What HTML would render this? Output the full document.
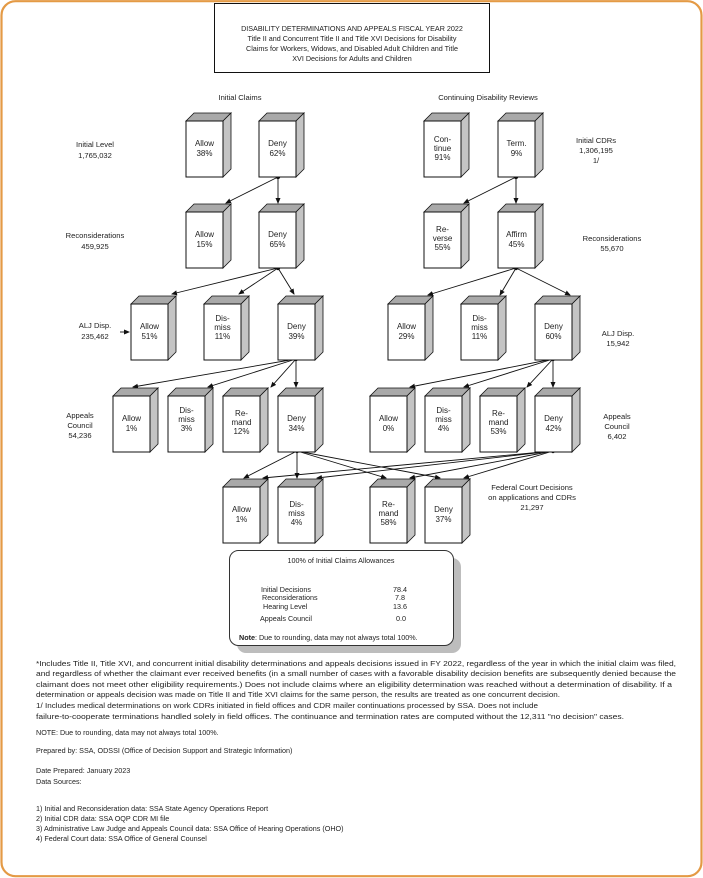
<!DOCTYPE html>
<html><head><meta charset="utf-8"><style>
html,body{margin:0;padding:0;background:#fff;}
svg{display:block;font-family:"Liberation Sans",Arial,sans-serif;}
.b text{font-size:8px;text-anchor:middle;fill:#222;}
.l{font-size:7.6px;fill:#222;text-anchor:middle;}
.f{font-size:7.2px;fill:#222;}
</style></head><body>
<svg width="703" height="878" viewBox="0 0 703 878" xmlns="http://www.w3.org/2000/svg">
<defs>
<g id="bx">
<polygon points="0,0 8,-8 45,-8 37,0" fill="#a9a9a9" stroke="#111" stroke-width="0.8"/>
<polygon points="37,0 45,-8 45,48 37,56" fill="#c4c4c4" stroke="#111" stroke-width="0.8"/>
<rect x="0" y="0" width="37" height="56" fill="#fff" stroke="#111" stroke-width="1"/>
</g>
<marker id="ar" markerWidth="6" markerHeight="6" refX="5" refY="3" orient="auto" markerUnits="userSpaceOnUse"><path d="M0,0.5 L6,3 L0,5.5z" fill="#111"/></marker>
</defs>
<rect x="1.5" y="1.2" width="700" height="875" rx="14" fill="none" stroke="#e49a45" stroke-width="2.2"/>
<rect x="214.5" y="3.5" width="275" height="69" fill="#fff" stroke="#111" stroke-width="1"/>
<g class="l" style="font-size:7.2px">
<text x="352" y="31">DISABILITY DETERMINATIONS AND APPEALS FISCAL YEAR 2022</text>
<text x="352" y="41">Title II and Concurrent Title II and Title XVI Decisions for Disability</text>
<text x="352" y="51">Claims for Workers, Widows, and Disabled Adult Children and Title</text>
<text x="352" y="61">XVI Decisions for Adults and Children</text>
</g>
<text class="l" x="240" y="100">Initial Claims</text>
<text class="l" x="488" y="100">Continuing Disability Reviews</text>
<g class="l">
<text x="95" y="147">Initial Level</text><text x="95" y="158">1,765,032</text>
<text x="95" y="238">Reconsiderations</text><text x="95" y="249">459,925</text>
<text x="95" y="328">ALJ Disp.</text><text x="95" y="339">235,462</text>
<text x="80" y="418">Appeals</text><text x="80" y="428">Council</text><text x="80" y="438">54,236</text>
<text x="596" y="143">Initial CDRs</text><text x="596" y="153">1,306,195</text><text x="596" y="163">1/</text>
<text x="612" y="241">Reconsiderations</text><text x="612" y="251">55,670</text>
<text x="618" y="336">ALJ Disp.</text><text x="618" y="346">15,942</text>
<text x="617" y="419">Appeals</text><text x="617" y="429">Council</text><text x="617" y="439">6,402</text>
<text x="532" y="490">Federal Court Decisions</text><text x="532" y="500">on applications and CDRs</text><text x="532" y="510">21,297</text>
</g>
<g stroke="#111" stroke-width="0.9" marker-end="url(#ar)">
<line x1="278" y1="177" x2="226" y2="203"/><line x1="278" y1="177" x2="278" y2="203"/>
<line x1="516" y1="177" x2="464" y2="203"/><line x1="516" y1="177" x2="516" y2="203"/>
<line x1="278" y1="268" x2="172" y2="294"/><line x1="278" y1="268" x2="239" y2="294"/><line x1="278" y1="268" x2="294" y2="294"/>
<line x1="516" y1="268" x2="428" y2="295"/><line x1="516" y1="268" x2="500" y2="295"/><line x1="516" y1="268" x2="570" y2="295"/>
<line x1="296" y1="359" x2="133" y2="387"/><line x1="296" y1="359" x2="208" y2="387"/><line x1="296" y1="359" x2="271" y2="387"/><line x1="296" y1="359" x2="296" y2="387"/>
<line x1="553" y1="359" x2="410" y2="387"/><line x1="553" y1="359" x2="464" y2="387"/><line x1="553" y1="359" x2="527" y2="387"/><line x1="553" y1="359" x2="553" y2="387"/>
<line x1="297" y1="451" x2="244" y2="478"/><line x1="297" y1="451" x2="297" y2="478"/><line x1="297" y1="451" x2="386" y2="478"/><line x1="297" y1="451" x2="440" y2="478"/>
<line x1="553" y1="451" x2="263" y2="478"/><line x1="553" y1="451" x2="317" y2="478"/><line x1="553" y1="451" x2="410" y2="478"/><line x1="553" y1="451" x2="464" y2="478"/>
<line x1="120" y1="332" x2="129" y2="332"/>
</g>
<g fill="#111">
<circle cx="278" cy="177" r="2.2"/><circle cx="516" cy="177" r="2.2"/><circle cx="278" cy="268" r="2.2"/><circle cx="516" cy="268" r="2.2"/>
<circle cx="296" cy="359" r="2.2"/><circle cx="553" cy="359" r="2.2"/><circle cx="297" cy="451" r="2.2"/><circle cx="553" cy="451" r="2.2"/>
</g>
<g class="b">
<use href="#bx" x="186" y="121"/><text x="204.5" y="146">Allow</text><text x="204.5" y="156">38%</text>
<use href="#bx" x="259" y="121"/><text x="277.5" y="146">Deny</text><text x="277.5" y="156">62%</text>
<use href="#bx" x="424" y="121"/><text x="442.5" y="142">Con-</text><text x="442.5" y="151">tinue</text><text x="442.5" y="160">91%</text>
<use href="#bx" x="498" y="121"/><text x="516.5" y="146">Term.</text><text x="516.5" y="156">9%</text>
<use href="#bx" x="186" y="212"/><text x="204.5" y="237">Allow</text><text x="204.5" y="247">15%</text>
<use href="#bx" x="259" y="212"/><text x="277.5" y="237">Deny</text><text x="277.5" y="247">65%</text>
<use href="#bx" x="424" y="212"/><text x="442.5" y="232">Re-</text><text x="442.5" y="241">verse</text><text x="442.5" y="250">55%</text>
<use href="#bx" x="498" y="212"/><text x="516.5" y="237">Affirm</text><text x="516.5" y="247">45%</text>
<use href="#bx" x="131" y="304"/><text x="149.5" y="329">Allow</text><text x="149.5" y="339">51%</text>
<use href="#bx" x="204" y="304"/><text x="222.5" y="321">Dis-</text><text x="222.5" y="330">miss</text><text x="222.5" y="339">11%</text>
<use href="#bx" x="278" y="304"/><text x="296.5" y="329">Deny</text><text x="296.5" y="339">39%</text>
<use href="#bx" x="388" y="304"/><text x="406.5" y="329">Allow</text><text x="406.5" y="339">29%</text>
<use href="#bx" x="461" y="304"/><text x="479.5" y="321">Dis-</text><text x="479.5" y="330">miss</text><text x="479.5" y="339">11%</text>
<use href="#bx" x="535" y="304"/><text x="553.5" y="329">Deny</text><text x="553.5" y="339">60%</text>
<use href="#bx" x="113" y="396"/><text x="131.5" y="421">Allow</text><text x="131.5" y="431">1%</text>
<use href="#bx" x="168" y="396"/><text x="186.5" y="413">Dis-</text><text x="186.5" y="422">miss</text><text x="186.5" y="431">3%</text>
<use href="#bx" x="223" y="396"/><text x="241.5" y="416">Re-</text><text x="241.5" y="425">mand</text><text x="241.5" y="434">12%</text>
<use href="#bx" x="278" y="396"/><text x="296.5" y="421">Deny</text><text x="296.5" y="431">34%</text>
<use href="#bx" x="370" y="396"/><text x="388.5" y="421">Allow</text><text x="388.5" y="431">0%</text>
<use href="#bx" x="425" y="396"/><text x="443.5" y="413">Dis-</text><text x="443.5" y="422">miss</text><text x="443.5" y="431">4%</text>
<use href="#bx" x="480" y="396"/><text x="498.5" y="416">Re-</text><text x="498.5" y="425">mand</text><text x="498.5" y="434">53%</text>
<use href="#bx" x="535" y="396"/><text x="553.5" y="421">Deny</text><text x="553.5" y="431">42%</text>
<use href="#bx" x="223" y="487"/><text x="241.5" y="512">Allow</text><text x="241.5" y="522">1%</text>
<use href="#bx" x="278" y="487"/><text x="296.5" y="507">Dis-</text><text x="296.5" y="516">miss</text><text x="296.5" y="525">4%</text>
<use href="#bx" x="370" y="487"/><text x="388.5" y="507">Re-</text><text x="388.5" y="516">mand</text><text x="388.5" y="525">58%</text>
<use href="#bx" x="425" y="487"/><text x="443.5" y="512">Deny</text><text x="443.5" y="522">37%</text>
</g>
<rect x="237" y="558" width="224" height="95" rx="9" fill="#bdbdbd"/>
<rect x="229.5" y="550.5" width="224" height="95" rx="9" fill="#fff" stroke="#333" stroke-width="1"/>
<g class="f">
<text x="341" y="563" text-anchor="middle">100% of Initial Claims Allowances</text>
<text x="261" y="592">Initial Decisions</text><text x="400" y="592" text-anchor="middle">78.4</text>
<text x="262" y="600">Reconsiderations</text><text x="400" y="600" text-anchor="middle">7.8</text>
<text x="263" y="609">Hearing Level</text><text x="400" y="609" text-anchor="middle">13.6</text>
<text x="260" y="621">Appeals Council</text><text x="401" y="621" text-anchor="middle">0.0</text>
<text x="239" y="640"><tspan font-weight="bold">Note</tspan>:  Due to rounding, data may not always total 100%.</text>
</g>
<g class="f">
<text x="36" y="666" textLength="640" lengthAdjust="spacingAndGlyphs">*Includes Title II, Title XVI, and concurrent initial disability determinations and appeals decisions issued in FY 2022, regardless of the year in which the initial claim was filed,</text>
<text x="36" y="676" textLength="640" lengthAdjust="spacingAndGlyphs">and regardless of whether the claimant ever received benefits (in a small number of cases with a favorable disability decision benefits are subsequently denied because the</text>
<text x="36" y="687" textLength="636" lengthAdjust="spacingAndGlyphs">claimant does not meet other eligibility requirements.)  Does not include claims where an eligibility determination was reached without a determination of disability.  If a</text>
<text x="36" y="697" textLength="524" lengthAdjust="spacingAndGlyphs">determination or appeals decision was made on Title II and Title XVI claims for the same person, the results are treated as one concurrent decision.</text>
<text x="36" y="708" textLength="502" lengthAdjust="spacingAndGlyphs">1/ Includes medical determinations on work CDRs initiated in field offices and CDR mailer continuations processed by SSA. Does not include</text>
<text x="36" y="719" textLength="588" lengthAdjust="spacingAndGlyphs">failure-to-cooperate terminations handled solely in field offices. The continuance and termination rates are computed without the 12,311 "no decision" cases.</text>
<text x="36" y="735">NOTE:  Due to rounding, data may not always total 100%.</text>
<text x="36" y="753">Prepared by: SSA, ODSSI (Office of Decision Support and Strategic Information)</text>
<text x="36" y="773">Date Prepared: January 2023</text>
<text x="36" y="784">Data Sources:</text>
<text x="36" y="811">1) Initial and Reconsideration data: SSA State Agency Operations Report</text>
<text x="36" y="821">2) Initial CDR data: SSA OQP CDR MI file</text>
<text x="36" y="831">3) Administrative Law Judge and Appeals Council data: SSA Office of Hearing Operations (OHO)</text>
<text x="36" y="841">4) Federal Court data: SSA Office of General Counsel</text>
</g>
</svg>
</body></html>
